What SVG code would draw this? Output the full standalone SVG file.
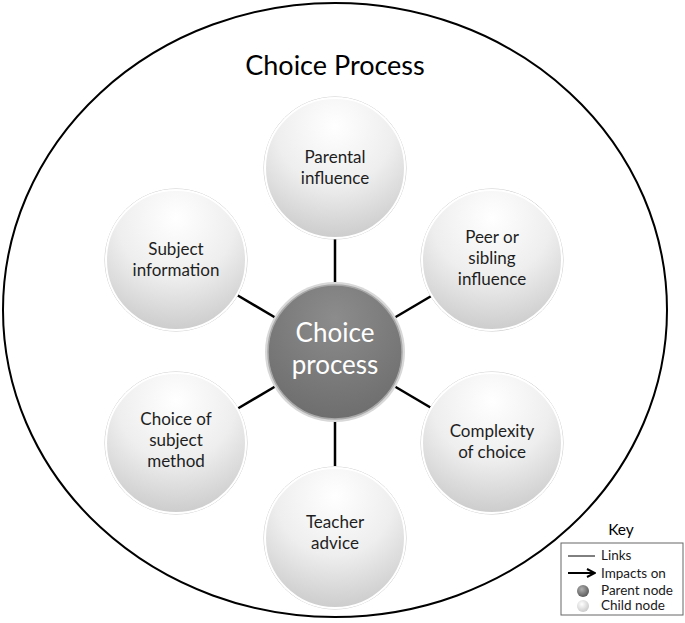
<svg xmlns="http://www.w3.org/2000/svg" width="685" height="623" viewBox="0 0 685 623">
<style>
.t{font-family:Lato,"Liberation Sans",sans-serif;fill:#1e1e1e;text-anchor:middle}
.nt{font-size:17px}
.ct{font-size:26px;fill:#ffffff}
.kt{font-family:Lato,"Liberation Sans",sans-serif;font-size:13.5px;fill:#1a1a1a}
.child{fill:url(#gChild);stroke:#ffffff;stroke-width:2}
.ring{fill:none;stroke:#c8c8c8;stroke-width:1}
.link{stroke:#000;stroke-width:2.5;fill:none}
</style>
<defs>
<radialGradient id="gChild" cx="50%" cy="20%" r="85%">
<stop offset="0" stop-color="#ffffff"/>
<stop offset="0.5" stop-color="#eeeeee"/>
<stop offset="1" stop-color="#c8c8c8"/>
</radialGradient>
<radialGradient id="gParent" cx="50%" cy="25%" r="85%">
<stop offset="0" stop-color="#8c8c8c"/>
<stop offset="1" stop-color="#6a6a6a"/>
</radialGradient>
<radialGradient id="gKeyP" cx="40%" cy="35%" r="70%">
<stop offset="0" stop-color="#b0b0b0"/>
<stop offset="1" stop-color="#555555"/>
</radialGradient>
<radialGradient id="gKeyC" cx="40%" cy="35%" r="70%">
<stop offset="0" stop-color="#ffffff"/>
<stop offset="1" stop-color="#c8c8c8"/>
</radialGradient>
<marker id="arr" viewBox="0 0 10 10" refX="9" refY="5" markerWidth="5" markerHeight="5" orient="auto">
<path d="M1,1 L9,5 L1,9" fill="none" stroke="#000" stroke-width="2"/>
</marker>
</defs>
<rect width="685" height="623" fill="#ffffff"/>
<g id="boundary">
<ellipse cx="335" cy="310" rx="332" ry="307" fill="none" stroke="#000" stroke-width="2"/>
<text class="t" x="335" y="75" style="font-size:27px;fill:#000">Choice Process</text>
</g>
<g id="connectors">
<line class="link" x1="335" y1="238" x2="335" y2="284"/>
<line class="link" x1="335" y1="420" x2="335" y2="466"/>
<line class="link" x1="237" y1="295" x2="276" y2="318"/>
<line class="link" x1="433" y1="295" x2="394" y2="318"/>
<line class="link" x1="237" y1="409" x2="276" y2="386"/>
<line class="link" x1="433" y1="409" x2="394" y2="386"/>
</g>
<g id="n-center">
<circle cx="335" cy="352" r="70" fill="#d8d8d8"/>
<circle cx="335" cy="352" r="67" fill="url(#gParent)" stroke="#a8a8a8" stroke-width="1.5"/>
<text class="t ct" x="335" y="342">Choice</text>
<text class="t ct" x="335" y="374">process</text>
</g>
<g id="n-parental">
<circle class="ring" cx="335" cy="168" r="71"/>
<circle class="child" cx="335" cy="168" r="70"/>
<text class="t nt" x="335" y="163">Parental</text>
<text class="t nt" x="335" y="184">influence</text>
</g>
<g id="n-peer">
<circle class="ring" cx="492" cy="260" r="71"/>
<circle class="child" cx="492" cy="260" r="70"/>
<text class="t nt" x="492" y="243">Peer or</text>
<text class="t nt" x="492" y="264">sibling</text>
<text class="t nt" x="492" y="285">influence</text>
</g>
<g id="n-complexity">
<circle class="ring" cx="492" cy="443" r="71"/>
<circle class="child" cx="492" cy="443" r="70"/>
<text class="t nt" x="492" y="437">Complexity</text>
<text class="t nt" x="492" y="458">of choice</text>
</g>
<g id="n-teacher">
<circle class="ring" cx="335" cy="538" r="71"/>
<circle class="child" cx="335" cy="538" r="70"/>
<text class="t nt" x="335" y="528">Teacher</text>
<text class="t nt" x="335" y="549">advice</text>
</g>
<g id="n-method">
<circle class="ring" cx="176" cy="443" r="71"/>
<circle class="child" cx="176" cy="443" r="70"/>
<text class="t nt" x="176" y="425">Choice of</text>
<text class="t nt" x="176" y="446">subject</text>
<text class="t nt" x="176" y="467">method</text>
</g>
<g id="n-subject">
<circle class="ring" cx="176" cy="260" r="71"/>
<circle class="child" cx="176" cy="260" r="70"/>
<text class="t nt" x="176" y="255">Subject</text>
<text class="t nt" x="176" y="276">information</text>
</g>
<g id="key">
<text class="t" x="621" y="535" style="font-size:15.5px;fill:#000">Key</text>
<rect x="561" y="543" width="122" height="72" fill="#ffffff" stroke="#666" stroke-width="1"/>
<line x1="568" y1="556" x2="595" y2="556" stroke="#000" stroke-width="1"/>
<text class="kt" x="601" y="560">Links</text>
<line x1="568" y1="573" x2="595" y2="573" stroke="#000" stroke-width="2" marker-end="url(#arr)"/>
<text class="kt" x="601" y="578">Impacts on</text>
<circle cx="583" cy="591" r="6" fill="url(#gKeyP)"/>
<text class="kt" x="601" y="595">Parent node</text>
<circle cx="583" cy="606" r="6" fill="url(#gKeyC)"/>
<text class="kt" x="601" y="610">Child node</text>
</g>
</svg>
